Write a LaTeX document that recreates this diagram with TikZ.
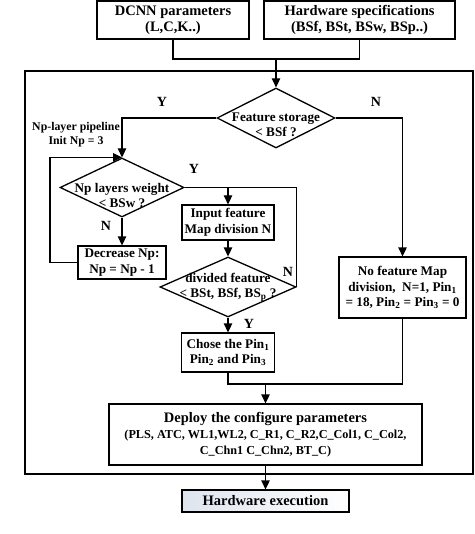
\documentclass[tikz,border=0pt]{standalone}
\usepackage{fontspec}
\setmainfont{Liberation Serif}
\usepackage{tikz}
\usetikzlibrary{arrows.meta,shapes.geometric,positioning}

\definecolor{hwshade}{RGB}{222,228,238}

\tikzset{
  box/.style={draw, rectangle, line width=1.3pt, align=center, inner sep=0pt,
    font=\fontsize{13.2}{15.5}\selectfont\bfseries},
  bigbox/.style={box, font=\fontsize{14.5}{15.5}\selectfont\bfseries},
  dia/.style={draw, diamond, line width=1.3pt, inner sep=0pt},
  dtext/.style={align=center, inner sep=0pt, font=\fontsize{13.2}{15.5}\selectfont\bfseries},
  yn/.style={font=\fontsize{14}{16}\selectfont\bfseries},
  note/.style={align=center, font=\fontsize{11.8}{14}\selectfont\bfseries},
  ln/.style={line width=1.3pt},
  arr/.style={line width=1.3pt, -{Triangle[length=9pt,width=8.5pt]}},
}

\begin{document}
\begin{tikzpicture}[x=1pt, y=-1pt]
   \useasboundingbox (0,0) rectangle (474,534);

   %inputs
   \node[bigbox, minimum width=152, minimum height=38] (dcnn) at (173,20) {DCNN parameters\\(L,C,K..)};
   \node[bigbox, minimum width=191, minimum height=38] (hwspec) at (359.5,20) {Hardware specifications\\(BSf, BSt, BSw, BSp..)};
   \coordinate (join) at (276,59);

   %mapping block
   \draw[line width=2.2pt] (25,71) rectangle (473,474);

   \node[dia, minimum width=118, minimum height=60,
     label={[dtext, yshift=-7pt]center:{Feature storage\\< BSf ?}}] (fstore) at (276,118) {};
   \node[note] (pipe) at (76,135) {Np-layer pipeline\\Init Np = 3};

   %weight check loop
   \node[dia, minimum width=124, minimum height=59,
     label={[dtext, yshift=-8pt]center:{Np layers weight\\< BSw ?}}] (wcheck) at (122,187.5) {};
   \node[box, minimum width=88, minimum height=33] (decnp) at (122,262.5) {Decrease Np:\\Np = Np - 1};
   \coordinate (back) at (50,262.5);

   %feature division
   \node[box, minimum width=92, minimum height=35] (divn) at (228,222.5) {Input feature\\Map division N};
   \node[dia, minimum width=136, minimum height=60,
     label={[dtext]center:{divided feature\\< BSt, BSf, BS\textsubscript{p} ?}}] (tcheck) at (228,287) {};
   \node[box, minimum width=93, minimum height=39] (pins) at (228,352.5) {Chose the Pin\textsubscript{1}\\Pin\textsubscript{2} and Pin\textsubscript{3}};

   %no division
   \node[box, minimum width=127, minimum height=61] (nodiv) at (402.5,287.5)
     {No feature Map\\division,\ \ N=1, Pin\textsubscript{1}\\= 18, Pin\textsubscript{2} = Pin\textsubscript{3} = 0};

   %outputs
   \coordinate (merge) at (265.5,384);
   \node[bigbox, minimum width=313, minimum height=61] (deploy) at (265.5,434.5)
     {Deploy the configure parameters\\[1pt]
      \fontsize{12.2}{15}\selectfont (PLS, ATC, WL1,WL2, C\_R1, C\_R2,C\_Col1, C\_Col2,\\
      \fontsize{12.2}{15}\selectfont C\_Chn1 C\_Chn2, BT\_C)};
   \node[bigbox, minimum width=167, minimum height=22, left color=hwshade, right color=white] (hwexe) at (265.5,501) {Hardware execution};

   %Y / N
   \node[yn] (y1) at (162,102) {Y};
   \node[yn] (n1) at (376,102) {N};
   \node[yn] (y2) at (194,169) {Y};
   \node[yn] (n2) at (106,226) {N};
   \node[yn] (n3) at (288,272) {N};
   \node[yn] (y3) at (249,324) {Y};

   \draw[ln] (dcnn.south) |- (join) -| (hwspec.south);
   \draw[arr] (join) -- (fstore.north);
   \draw[arr] (fstore.west) -| (wcheck.north);
   \draw[arr] (fstore.east) -| (nodiv.north);

   %weight loop
   \draw[arr] (wcheck.south) -- (decnp.north);
   \draw[arr] (decnp.west) -- (back) |- (wcheck.north);
   \draw[arr] (wcheck.east) -| (divn.north);

   %division loop
   \draw[arr] (divn.south) -- (tcheck.north);
   \draw[ln] (tcheck.east) |- (divn.north |- wcheck.east);
   \draw[arr] (tcheck.south) -- (pins.north);

   \draw[ln] (pins.south) |- (merge) -| (nodiv.south);
   \draw[arr] (merge) -- (deploy.north);
   \draw[arr] (deploy.south) -- (hwexe.north);
\end{tikzpicture}
\end{document}
